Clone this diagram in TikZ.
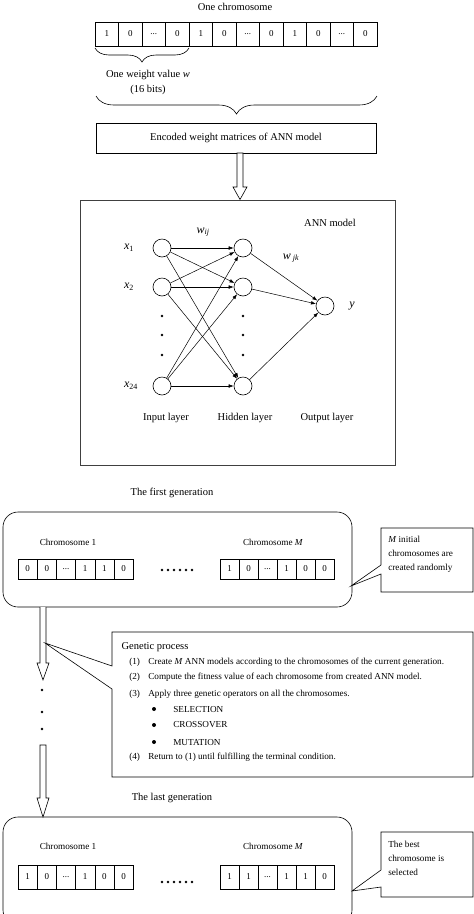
\documentclass[tikz,border=0pt]{standalone}
\usepackage{fontspec}
\setmainfont{Liberation Serif}
\usetikzlibrary{decorations.pathreplacing,arrows.meta,calc}
\newcommand\tdots{...}
\begin{document}
\begin{tikzpicture}[x=1pt,y=-1pt,
  line width=0.6pt,
  cell/.style={draw, inner sep=0pt, outer sep=0pt, font=\fontsize{9}{10}\selectfont},
  big/.style={font=\fontsize{10.5}{12}\selectfont},
  small/.style={font=\fontsize{9.2}{10}\selectfont},
  neuron/.style={draw, circle, minimum size=18pt, inner sep=0pt},
  wire/.style={-{Latex[length=5pt,width=3.6pt]}, line width=0.5pt},
  hollow/.style={draw, line width=0.6pt, fill=white},
  dotc/.style={circle, fill=black, inner sep=0pt, minimum size=2.6pt},
]
\useasboundingbox (0,0) rectangle (474,914);

% ---------- top chromosome ----------
\node[big] (title) at (235,7) {One chromosome};
\foreach \t [count=\i] in {1,0,\tdots,0,1,0,\tdots,0,1,0,\tdots,0}
  \node[cell, minimum width=23.5pt, minimum height=24pt] (c\i) at ({95+23.5*(\i-0.5)},34) {\t};
\draw[decorate, decoration={brace, mirror, amplitude=14pt}] (c1.south west) ++(0,2) coordinate (b1s) -- ($(c4.south east)+(0,2)$) coordinate (b1e);
\node[big] (wlab) at (148,75) {One weight value \textit{w}};
\node[big] (blab) at (148,90) {(16 bits)};
\draw[decorate, decoration={brace, mirror, amplitude=18pt}] (96,96) coordinate (b2s) -- (377,96) coordinate (b2e);

\node[draw, big, minimum width=280pt, minimum height=30pt, inner sep=0pt] (enc) at (236,138) {Encoded weight matrices of ANN model};

% ANN box
\node[draw, line width=0.9pt, draw=black!75, minimum width=315pt, minimum height=265pt, inner sep=0pt] (annbox) at (237.5,332.5) {};
\draw[hollow] (237,153) -- (237,187) -- (233,187) -- (240,199.5) -- (247,187) -- (243,187) -- (243,153) -- cycle;

\node[big] (annlab) at (330,223) {ANN model};
\node[neuron] (i1) at (162,248) {};
\node[neuron] (i2) at (162,287) {};
\node[neuron] (i3) at (162,386) {};
\node[neuron] (h1) at (243,248) {};
\node[neuron] (h2) at (243,287) {};
\node[neuron] (h3) at (243,386) {};
\node[neuron] (o1) at (325,306) {};
\foreach \a in {i1,i2,i3}
  \foreach \b in {h1,h2,h3}
    \draw[wire] (\a) -- (\b);
\foreach \b in {h1,h2,h3}
  \draw[wire] (\b) -- (o1);
\foreach \yy [count=\k] in {316,335,355}{
  \node[dotc] (di\k) at (162,\yy) {};
  \node[dotc] (dh\k) at (243,\yy) {};
}
\node[font=\fontsize{12}{13}\selectfont] (x1) at (129,248) {\textit{x}\textsubscript{1}};
\node[font=\fontsize{12}{13}\selectfont] (x2) at (129,287) {\textit{x}\textsubscript{2}};
\node[font=\fontsize{12}{13}\selectfont] (x24) at (131,386) {\textit{x}\textsubscript{24}};
\node[font=\fontsize{12}{13}\selectfont] (yl) at (352,306) {\textit{y}};
\node[font=\fontsize{12}{13}\selectfont] (wij) at (203,232) {\textit{w}\textsubscript{\textit{ij}}};
\node[font=\fontsize{12}{13}\selectfont] (wjk) at (291,258) {\textit{w}\,\textsubscript{\textit{jk}}};
\node[big] (l1) at (166,418) {Input layer};
\node[big] (l2) at (245,418) {Hidden layer};
\node[big] (l3) at (327,418) {Output layer};

% ---------- first generation ----------
\node[big] (g1t) at (172,493) {The first generation};
\draw[rounded corners=15pt] (3,512) rectangle (352,607);
\node[small] (g1c1) at (68,542) {Chromosome 1};
\node[small] (g1cm) at (273,542) {Chromosome \textit{M}};
\foreach \t [count=\i] in {0,0,\tdots,1,1,0}
  \node[cell, minimum width=19.2pt, minimum height=20pt] (fa\i) at ({18+19.2*(\i-0.5)},569) {\t};
\foreach \t [count=\i] in {1,0,\tdots,1,0,0}
  \node[cell, minimum width=19pt, minimum height=20pt] (fb\i) at ({220+19*(\i-0.5)},569) {\t};
\foreach \k in {0,...,5}
  \node[dotc] (fd\k) at ({162+6*\k},570) {};
\draw (381,528) -- (473,528) -- (473,592) -- (381,592) -- (381,574) -- (351,586) -- (381,565) -- cycle;
\node[small, anchor=north west, align=left, inner sep=0pt] (cb1) at (388,536) {\textit{M} initial\\[4pt]chromosomes are\\[4pt]created randomly};

% ---------- arrows with dots ----------
\draw[hollow] (40,607) -- (40,663) -- (37,663) -- (43,680) -- (49,663) -- (46,663) -- (46,607);
\node[dotc] (vd1) at (42,690) {};
\node[dotc] (vd2) at (42,712) {};
\node[dotc] (vd3) at (42,729) {};
\draw[hollow] (40,745) -- (40,798) -- (37,798) -- (43,817) -- (49,798) -- (46,798) -- (46,745) -- cycle;

% ---------- genetic process ----------
\draw (112,666) -- (112,632) -- (473,632) -- (473,777) -- (112,777) -- (112,689) -- (45,643) -- cycle;
\node[big, anchor=west] (gp) at (118,647) {Genetic process};
\begin{scope}[every node/.style={small, anchor=west, inner sep=0pt}]
\node (n1) at (129,662) {(1)};
\node (t1) at (148,662) {Create \textit{M} ANN models according to the chromosomes of the current generation.};
\node (n2) at (129,677) {(2)};
\node (t2) at (148,677) {Compute the fitness value of each chromosome from created ANN model.};
\node (n3) at (129,694) {(3)};
\node (t3) at (148,694) {Apply three genetic operators on all the chromosomes.};
\node (s1) at (173,709) {SELECTION};
\node (s2) at (173,725) {CROSSOVER};
\node (s3) at (173,742) {MUTATION};
\node (n4) at (129,757) {(4)};
\node (t4) at (148,757) {Return to (1) until fulfilling the terminal condition.};
\end{scope}
\node[dotc, minimum size=4pt] (bu1) at (154,709) {};
\node[dotc, minimum size=4pt] (bu2) at (154,725) {};
\node[dotc, minimum size=4pt] (bu3) at (154,742) {};

% ---------- last generation ----------
\node[big] (g2t) at (172,798) {The last generation};
\draw[rounded corners=15pt] (3,817) rectangle (352,925);
\node[small] (g2c1) at (68,846) {Chromosome 1};
\node[small] (g2cm) at (273,846) {Chromosome \textit{M}};
\foreach \t [count=\i] in {1,0,\tdots,1,0,0}
  \node[cell, minimum width=19.2pt, minimum height=24pt] (la\i) at ({18+19.2*(\i-0.5)},877) {\t};
\foreach \t [count=\i] in {1,1,\tdots,1,1,0}
  \node[cell, minimum width=19pt, minimum height=24pt] (lb\i) at ({220+19*(\i-0.5)},877) {\t};
\foreach \k in {0,...,5}
  \node[dotc] (ld\k) at ({162+6*\k},882) {};
\draw (381,832) -- (473,832) -- (473,897) -- (381,897) -- (381,887) -- (352,891) -- (381,870) -- cycle;
\node[small, anchor=north west, align=left, inner sep=0pt] (cb2) at (388,841) {The best\\[4pt]chromosome is\\[4pt]selected};
\end{tikzpicture}
\end{document}
